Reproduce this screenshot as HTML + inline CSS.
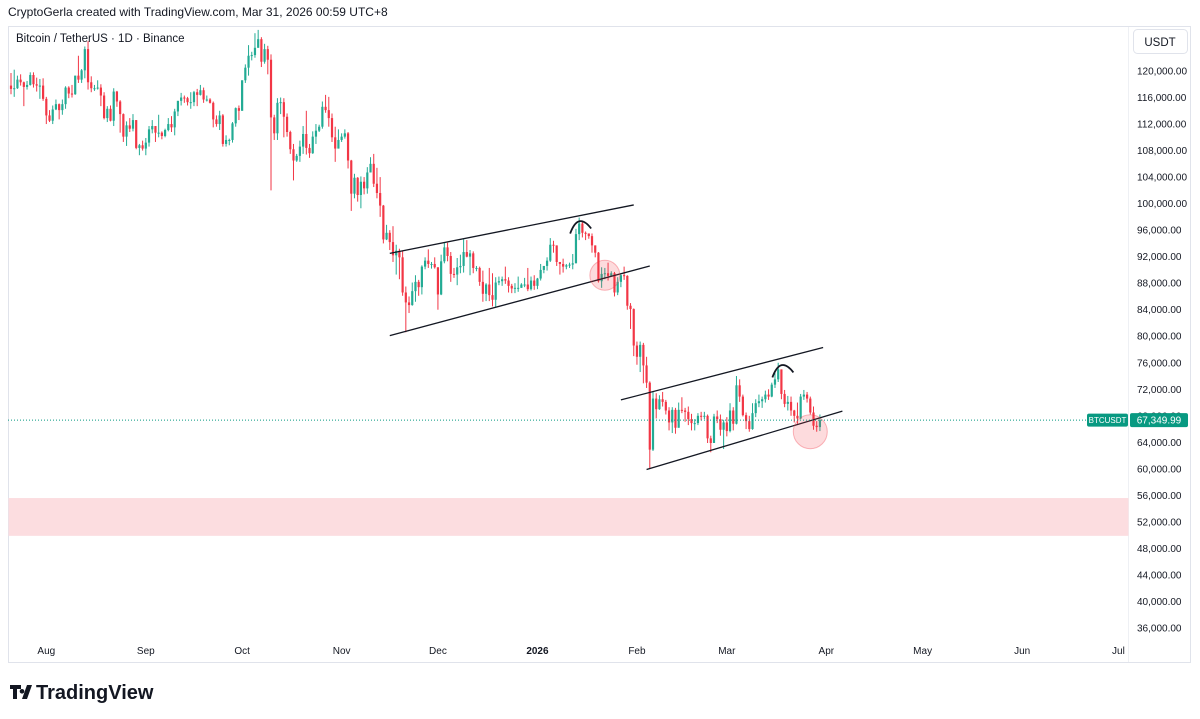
<!DOCTYPE html>
<html><head><meta charset="utf-8">
<style>
html,body{margin:0;padding:0;background:#fff;width:1200px;height:719px;overflow:hidden;font-family:"Liberation Sans",sans-serif;}
svg{display:block}
</style></head>
<body>
<svg id="chart" width="1200" height="719" xmlns="http://www.w3.org/2000/svg">
  <text x="8" y="16" font-size="12" fill="#131722">CryptoGerla created with TradingView.com, Mar 31, 2026 00:59 UTC+8</text>
  <rect x="8.5" y="26.5" width="1182" height="636" fill="#fff" stroke="#e0e3eb"/>
  <line x1="1128.5" y1="27" x2="1128.5" y2="662" stroke="#eef0f4"/>
  <text x="16" y="42" font-size="11.5" fill="#131722">Bitcoin / TetherUS · 1D · Binance</text>
  <rect x="1133.5" y="29.5" width="54" height="24" rx="4" fill="#fff" stroke="#e0e3eb"/>
  <text x="1160" y="46" font-size="11.5" fill="#131722" text-anchor="middle">USDT</text>
  <g id="zones"></g>
  <g id="yaxis"></g>
  <g id="xaxis"></g>
  <g id="candles"></g>
  <g id="drawings"></g>
  <g id="lastprice"></g>
  <g>
    <path d="M10 685h11v4h-4v10h-4v-10h-3z M22 689a2.3 2.3 0 1 0 0.01 0z M27 685h5l-5 14h-5z" fill="#131722"/>
    <text x="36" y="699" font-size="20" font-weight="bold" fill="#131722">TradingView</text>
  </g>
</svg>
<script>
// Daily candles from 2025-07-21 to 2026-03-30 (thousands USDT)
const closes = [
117.3,117.4,118.7,118.3,117.6,117.9,119.4,118.0,117.8,117.8,115.8,
113.3,112.5,114.2,115.0,114.1,115.0,117.5,116.6,116.5,119.3,118.7,120.1,123.3,118.3,117.4,117.4,117.5,116.3,112.9,114.3,112.5,116.9,115.4,113.5,110.1,111.8,111.3,112.6,108.4,108.8,108.3,
109.2,111.2,111.7,110.7,110.7,110.2,111.1,112.0,111.5,113.9,115.5,116.0,115.9,115.3,115.3,116.8,116.4,117.1,115.7,115.7,115.2,112.7,112.0,113.3,109.0,109.6,109.6,112.1,114.4,114.0,
118.6,120.5,122.3,122.4,123.5,124.8,121.4,123.3,121.7,113.0,110.6,115.2,115.3,113.1,110.8,108.2,106.5,107.2,108.6,110.5,108.4,107.6,110.1,111.0,111.6,114.6,114.1,112.9,110.0,108.3,109.6,
110.1,110.6,106.5,101.5,103.9,101.3,103.3,102.3,104.7,106.0,103.0,101.6,99.7,94.6,95.6,94.2,92.2,92.9,91.9,86.6,85.1,84.7,86.8,88.2,87.4,90.5,91.4,90.9,90.9,90.4,
86.3,91.3,93.4,92.1,89.4,89.3,90.4,90.6,92.7,92.0,92.5,90.3,90.3,88.2,86.4,87.8,86.2,85.5,88.1,88.3,88.6,88.4,87.6,87.2,87.3,87.3,87.8,87.8,87.1,88.4,87.6,
88.7,90.0,90.6,91.4,93.8,93.7,91.2,90.9,90.5,90.7,90.8,91.0,95.4,97.0,95.6,95.5,95.1,93.7,92.6,88.3,89.4,89.5,89.1,89.5,86.6,88.2,89.2,89.1,84.6,84.1,78.6,
76.9,78.7,75.6,73.0,62.9,70.6,69.0,70.5,70.1,68.8,67.0,68.9,66.2,68.9,68.8,68.6,67.5,66.9,66.9,68.0,67.9,68.0,64.6,63.9,67.9,67.5,65.9,67.0,
65.7,68.8,66.8,72.6,70.9,68.1,67.2,66.0,68.4,69.9,70.2,70.5,71.2,70.9,72.7,73.5,75.0,71.3,69.8,70.1,68.8,68.0,67.6,70.9,71.2,70.6,68.5,66.5,66.3,67.35];
const highs = [
119.7,120.2,119.3,119.5,118.4,118.5,119.8,119.8,119.0,118.8,118.9,
116.1,114.1,114.8,115.7,115.1,115.7,117.7,117.7,117.9,119.3,122.3,120.3,123.7,124.5,119.2,117.9,118.6,118.0,116.8,114.7,114.8,117.4,117.0,115.6,113.6,112.4,112.9,113.5,112.6,109.0,109.5,
109.9,111.7,112.6,111.7,113.4,110.9,111.3,112.9,113.2,114.3,115.5,116.7,116.3,116.1,116.8,117.0,117.3,117.9,117.5,116.3,115.9,115.4,113.3,114.0,113.5,110.3,109.8,112.3,114.5,114.8,
118.6,121.0,123.9,122.9,125.7,126.2,125.1,124.1,123.8,122.5,113.4,115.9,116.0,115.9,113.6,111.0,109.0,107.5,109.5,111.7,114.0,109.0,110.9,112.0,111.9,115.4,116.4,116.1,113.6,111.6,111.2,
110.6,111.2,110.8,106.6,104.5,104.0,104.1,104.0,105.5,107.0,107.5,105.4,104.0,99.8,96.8,96.0,96.6,93.8,93.2,92.9,87.5,86.0,88.1,89.2,88.5,90.7,91.9,93.1,91.2,91.9,
90.4,92.3,94.1,94.1,92.7,90.3,91.8,92.3,94.6,94.5,93.0,92.8,90.6,90.5,89.9,88.0,90.3,89.5,88.9,89.0,89.0,90.5,88.9,87.9,88.0,89.0,88.0,88.8,90.3,89.0,89.2,
88.8,90.9,90.6,91.9,94.8,94.4,93.4,91.2,91.7,90.9,91.1,92.4,96.2,97.9,97.4,95.8,95.5,95.5,93.7,92.7,90.4,90.3,91.1,89.8,89.7,88.9,89.3,90.5,89.2,85.0,84.2,
79.2,79.2,79.0,76.9,73.2,71.7,71.4,71.1,71.6,70.4,69.3,69.3,69.2,70.0,70.8,69.2,69.4,68.3,67.5,68.4,68.6,68.6,68.2,65.0,68.3,68.8,68.2,67.4,
67.8,69.9,69.3,74.0,73.5,71.2,68.5,68.0,69.9,70.5,71.2,70.9,71.8,72.0,73.0,74.8,76.0,75.0,71.9,71.0,70.9,68.9,70.0,71.3,71.9,71.6,70.9,69.4,67.2,68.2];
const lows = [
116.5,116.1,117.3,117.8,114.7,117.2,117.8,117.5,116.9,115.8,115.5,
112.0,112.3,112.0,114.1,112.7,113.4,114.3,115.9,116.0,116.4,118.2,118.2,118.9,117.2,116.8,117.0,117.2,114.7,112.7,112.3,112.4,111.7,114.6,110.7,109.3,108.7,110.8,110.9,108.2,107.3,108.0,
107.3,108.6,110.6,109.3,110.0,109.7,110.0,110.9,110.8,110.3,113.2,114.8,115.2,114.8,114.3,114.7,114.7,116.3,115.2,115.4,115.1,111.5,111.6,111.1,108.6,108.6,108.8,109.2,111.6,112.6,
114.0,118.2,119.3,121.6,122.0,123.6,120.6,121.1,119.5,102.0,109.6,109.6,113.5,110.0,110.1,107.5,103.5,106.3,106.3,107.5,107.4,106.9,107.5,109.0,110.8,111.3,113.7,111.6,109.3,106.3,108.5,
109.3,109.8,105.3,98.9,100.8,100.3,99.3,101.4,101.5,105.2,102.5,100.8,98.0,94.0,94.5,93.0,91.2,89.3,88.6,86.1,80.6,83.5,84.6,85.2,86.1,86.3,90.1,90.3,90.2,90.2,
84.0,86.2,91.0,91.3,88.2,88.8,87.7,89.5,89.6,91.9,89.2,89.5,89.8,87.6,85.2,85.3,85.3,84.5,84.4,87.7,87.6,87.9,86.6,86.5,86.5,86.7,87.3,87.4,86.8,86.9,87.0,
87.1,88.4,89.5,89.9,91.2,92.6,90.6,89.3,89.6,90.1,90.3,90.1,91.0,94.5,94.9,94.5,94.7,92.6,91.9,88.1,87.3,88.6,88.4,89.0,86.0,86.2,87.4,88.5,84.0,81.1,77.0,
75.7,74.6,72.9,72.2,60.0,62.7,67.6,68.9,69.4,68.2,65.8,65.4,65.3,66.3,68.4,67.1,66.6,65.8,65.8,66.6,67.3,67.5,63.9,62.5,63.9,66.9,65.0,63.0,
64.9,65.5,65.8,66.7,70.1,67.9,66.0,65.6,65.9,67.8,69.3,69.2,70.0,70.4,70.8,72.2,73.1,70.5,69.3,68.8,68.0,67.0,66.8,67.5,70.4,70.0,68.2,65.9,65.6,65.7];
const firstOpen = 117.8;
const priceTicks = [120,116,112,108,104,100,96,92,88,84,80,76,72,68,64,60,56,52,48,44,40,36];
const monthLabels = ["Aug","Sep","Oct","Nov","Dec","2026","Feb","Mar","Apr","May","Jun","Jul"];
const monthDayIndex = [11,42,72,103,133,164,195,223,254,284,315,345];
const lastPrice = 67.34999;
const zoneRange = [49.9, 55.6];
// drawings in [dayIndex, price]
const channel1Upper = [[118,92.5],[194,99.8]];
const channel1Lower = [[118,80.1],[199,90.6]];
const channel2Upper = [[190,70.4],[253,78.3]];
const channel2Lower = [[198,59.9],[259,68.7]];
const peakMarks = [[177,97.0],[240,75.3]];
const breakCircles = [[185,89.2,15],[249,65.6,17]];

const NS="http://www.w3.org/2000/svg";
function xOf(i){return 11+3.21*i;}
function yOf(p){return 71+(120-p)*6.631;}
function el(tag,attrs,parent){const e=document.createElementNS(NS,tag);for(const k in attrs)e.setAttribute(k,attrs[k]);parent.appendChild(e);return e;}
const G=id=>document.getElementById(id);

// zone
const z=el('rect',{x:8.5,y:yOf(zoneRange[1]),width:1120,height:yOf(zoneRange[0])-yOf(zoneRange[1]),fill:'#fcdde0'},G('zones'));



// y axis
priceTicks.forEach(p=>{
  const t=el('text',{x:1137,y:yOf(p)+3.5,'font-size':10,fill:'#131722'},G('yaxis'));
  t.textContent=(p*1000).toLocaleString('en-US')+'.00';
  
  
});
// x axis
monthLabels.forEach((m,k)=>{
  const t=el('text',{x:xOf(monthDayIndex[k]),y:654,'font-size':10,fill:'#131722','text-anchor':'middle','font-weight':m==='2026'?'bold':'normal'},G('xaxis'));
  t.textContent=m;
  
  
});

// candles
const n=Math.min(closes.length,highs.length,lows.length);
for(let i=0;i<n;i++){
  const o=i===0?firstOpen:closes[i-1], c=closes[i];
  const h=Math.max(highs[i],o,c), l=Math.min(lows[i],o,c);
  const up=c>=o, col=up?'#22ab94':'#f23645';
  const x=xOf(i);
  const g=el('g',{},G('candles'));
  
  
  el('line',{x1:x,y1:yOf(h),x2:x,y2:yOf(l),stroke:col,'stroke-width':1},g);
  const yt=yOf(Math.max(o,c)), yb=yOf(Math.min(o,c));
  el('rect',{x:x-1.1,y:yt,width:2.2,height:Math.max(1,yb-yt),fill:col},g);
}

// drawings
function tline(pts,name){
  const l=el('line',{x1:xOf(pts[0][0]),y1:yOf(pts[0][1]),x2:xOf(pts[1][0]),y2:yOf(pts[1][1]),stroke:'#131722','stroke-width':1.3},G('drawings'));
  
  
}
tline(channel1Upper,'channel1-upper-trendline');
tline(channel1Lower,'channel1-lower-trendline');
tline(channel2Upper,'channel2-upper-trendline');
tline(channel2Lower,'channel2-lower-trendline');
breakCircles.forEach(b=>{
  const c=el('circle',{cx:xOf(b[0]),cy:yOf(b[1]),r:b[2],fill:'rgba(242,54,69,0.18)',stroke:'rgba(242,54,69,0.35)','stroke-width':1},G('drawings'));
  
  
});
peakMarks.forEach(p=>{
  const cx=xOf(p[0]), cy=yOf(p[1]);
  const a=el('path',{d:`M${cx-9} ${cy+10} Q${cx-1} ${cy-12} ${cx+12} ${cy+5}`,fill:'none',stroke:'#131722','stroke-width':1.8},G('drawings'));
  
  
});

// last price
const ly=yOf(lastPrice);
const dl=el('line',{x1:8,y1:ly,x2:1128,y2:ly,stroke:'#089981','stroke-width':1,'stroke-dasharray':'1 2'},G('lastprice'));


const sb=el('rect',{x:1087,y:ly-6.5,width:41,height:13,rx:2,fill:'#089981'},G('lastprice'));


const st=el('text',{x:1107.5,y:ly+3,'font-size':8,fill:'#fff','text-anchor':'middle'},G('lastprice'));
st.textContent='BTCUSDT';


const pb=el('rect',{x:1130,y:ly-7,width:58,height:14,rx:2,fill:'#089981'},G('lastprice'));


const pt=el('text',{x:1159,y:ly+3.5,'font-size':10,fill:'#fff','text-anchor':'middle'},G('lastprice'));
pt.textContent=(lastPrice*1000).toLocaleString('en-US',{minimumFractionDigits:2,maximumFractionDigits:2});


</script>
</body></html>
